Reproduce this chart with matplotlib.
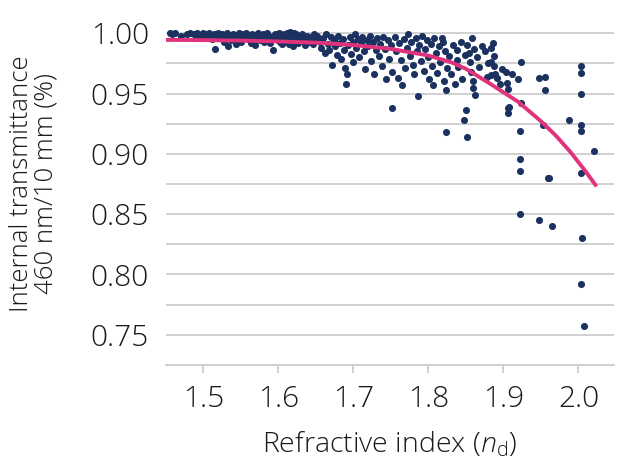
import matplotlib
matplotlib.use("Agg")
import matplotlib.pyplot as plt
import numpy as np

# glass data: refractive index n_d vs internal transmittance (460 nm / 10 mm)
nd_low = [1.455, 1.458, 1.462, 1.470, 1.478, 1.482, 1.487, 1.490, 1.492, 1.495,
          1.498, 1.500, 1.502, 1.504, 1.506, 1.508, 1.510, 1.512, 1.514, 1.516,
          1.517, 1.519, 1.521, 1.523, 1.525, 1.527, 1.529, 1.531, 1.533, 1.535,
          1.537, 1.539, 1.541, 1.543, 1.545, 1.547, 1.549, 1.550]
tr_low = [1.000, 0.999, 1.000, 0.998, 0.999, 1.000, 0.999, 0.997, 1.000, 0.998,
          0.999, 1.000, 0.996, 0.999, 0.997, 1.000, 0.998, 0.995, 0.999, 0.987,
          0.997, 1.000, 0.996, 0.998, 0.999, 0.993, 0.997, 1.000, 0.989, 0.998,
          0.994, 0.999, 0.997, 0.991, 0.998, 1.000, 0.996, 0.993]

nd_mid1 = [1.552, 1.555, 1.557, 1.559, 1.561, 1.563, 1.565, 1.567, 1.569, 1.571,
           1.573, 1.575, 1.577, 1.579, 1.581, 1.583, 1.585, 1.587, 1.589, 1.591,
           1.593, 1.595, 1.597, 1.599, 1.601, 1.603, 1.605, 1.607, 1.609, 1.611,
           1.613, 1.615, 1.617, 1.619, 1.620, 1.622, 1.624, 1.626, 1.628, 1.630,
           1.632, 1.634, 1.636, 1.638, 1.640, 1.642, 1.644, 1.646, 1.648, 1.650,
           1.600, 1.602, 1.604, 1.606, 1.610, 1.612, 1.614, 1.616, 1.618, 1.621,
           1.623, 1.625]
tr_mid1 = [0.999, 0.997, 1.000, 0.995, 0.998, 0.992, 0.999, 0.996, 0.990, 0.998,
           1.000, 0.994, 0.997, 0.999, 0.993, 0.996, 1.000, 0.998, 0.992, 0.995,
           0.986, 0.999, 0.997, 0.994, 1.000, 0.998, 0.991, 0.996, 0.999, 0.993,
           0.997, 1.001, 0.995, 0.998, 0.989, 0.996, 0.999, 0.992, 0.997, 0.994,
           0.999, 0.996, 0.990, 0.998, 0.995, 0.993, 0.997, 0.991, 0.999, 0.994,
           0.996, 0.993, 0.999, 0.997, 0.995, 1.000, 0.991, 0.998, 0.994, 1.000,
           0.993, 0.997]

nd_mid2 = [1.652, 1.655, 1.657, 1.660, 1.662, 1.664, 1.666, 1.668, 1.670, 1.672,
           1.674, 1.676, 1.678, 1.680, 1.682, 1.684, 1.686, 1.688, 1.689, 1.690,
           1.691, 1.693, 1.695, 1.697, 1.699, 1.700, 1.702, 1.704, 1.706, 1.708,
           1.710, 1.712, 1.714, 1.716, 1.718, 1.720, 1.722, 1.724, 1.726, 1.728,
           1.730, 1.732, 1.734, 1.736, 1.738, 1.740, 1.742, 1.744, 1.746, 1.748,
           1.750, 1.751, 1.752]
tr_mid2 = [0.998, 0.993, 0.988, 0.996, 0.984, 0.999, 0.991, 0.986, 0.997, 0.974,
           0.994, 0.989, 0.982, 0.998, 0.992, 0.979, 0.995, 0.986, 0.971, 0.958,
           0.966, 0.990, 0.997, 0.983, 0.993, 0.976, 0.999, 0.988, 0.995, 0.980,
           0.992, 0.997, 0.985, 0.970, 0.994, 0.989, 0.998, 0.977, 0.993, 0.966,
           0.986, 0.996, 0.981, 0.991, 0.973, 0.997, 0.987, 0.962, 0.994, 0.979,
           0.990, 0.938, 0.968]

nd_high1 = [1.755, 1.757, 1.759, 1.761, 1.763, 1.765, 1.767, 1.769, 1.771, 1.773,
            1.775, 1.777, 1.779, 1.781, 1.783, 1.785, 1.786, 1.788, 1.790, 1.792,
            1.794, 1.796, 1.798, 1.800, 1.801, 1.803, 1.805, 1.806, 1.808, 1.810,
            1.812, 1.814, 1.816, 1.818, 1.820, 1.821, 1.822, 1.823, 1.823, 1.825,
            1.828, 1.830, 1.833, 1.835, 1.838, 1.838, 1.840, 1.843, 1.845, 1.848,
            1.849, 1.850, 1.851]
tr_high1 = [0.997, 0.985, 0.963, 0.992, 0.978, 0.957, 0.995, 0.971, 0.988, 0.999,
            0.981, 0.993, 0.974, 0.966, 0.996, 0.985, 0.948, 0.990, 0.977, 0.998,
            0.969, 0.987, 0.994, 0.980, 0.962, 0.991, 0.973, 0.957, 0.996, 0.984,
            0.967, 0.989, 0.976, 0.996, 0.993, 0.960, 0.985, 0.953, 0.918, 0.971,
            0.981, 0.966, 0.990, 0.958, 0.986, 0.978, 0.972, 0.993, 0.962, 0.928,
            0.982, 0.936, 0.914]

nd_high2 = [1.852, 1.854, 1.856, 1.857, 1.858, 1.859, 1.860, 1.861, 1.862, 1.865,
            1.868, 1.872, 1.876, 1.878, 1.880, 1.884, 1.884, 1.884, 1.886, 1.887,
            1.888, 1.889, 1.892, 1.895, 1.898]
tr_high2 = [0.990, 0.984, 0.976, 0.968, 0.996, 0.960, 0.955, 0.987, 0.949, 0.980,
            0.972, 0.989, 0.985, 0.964, 0.975, 0.988, 0.976, 0.965, 0.992, 0.981,
            0.973, 0.966, 0.963, 0.958, 0.970]

nd_out = [1.904, 1.905, 1.906, 1.906, 1.906, 1.907, 1.912, 1.919, 1.923, 1.922,
          1.922, 1.922, 1.922, 1.924, 1.947, 1.947, 1.953, 1.955, 1.956, 1.960,
          1.961, 1.965, 1.988, 2.003, 2.003, 2.003, 2.003, 2.003, 2.003, 2.005,
          2.003, 2.007, 2.021]
tr_out = [0.968, 0.959, 0.954, 0.934, 0.938, 0.939, 0.966, 0.962, 0.942, 0.919,
          0.896, 0.886, 0.850, 0.976, 0.963, 0.845, 0.924, 0.953, 0.964, 0.880,
          0.880, 0.840, 0.928, 0.973, 0.967, 0.950, 0.924, 0.919, 0.884, 0.830,
          0.792, 0.757, 0.902]

# trend curve
fit_nd = [1.45, 1.50, 1.55, 1.60, 1.65, 1.70, 1.75, 1.80, 1.83, 1.85, 1.88,
          1.90, 1.92, 1.95, 1.97, 1.99, 2.01, 2.024]
fit_tr = [0.9945, 0.9943, 0.9939, 0.9932, 0.9922, 0.9902, 0.9870, 0.9815,
          0.9760, 0.9705, 0.9590, 0.9510, 0.9430, 0.9270, 0.9150, 0.9010,
          0.8850, 0.8730]

nd_all = nd_low + nd_mid1 + nd_mid2 + nd_high1 + nd_high2 + nd_out
tr_all = tr_low + tr_mid1 + tr_mid2 + tr_high1 + tr_high2 + tr_out

plt.rcParams['font.family'] = ['Open Sans', 'DejaVu Sans']
plt.rcParams['font.weight'] = 300
plt.rcParams['axes.labelweight'] = 300
plt.rcParams['mathtext.fontset'] = 'custom'
plt.rcParams['mathtext.it'] = 'Open Sans:italic:light'
plt.rcParams['mathtext.rm'] = 'Open Sans:light'

fig = plt.figure(figsize=(6.4, 4.69), dpi=100)
ax = fig.add_axes([0.259, 0.222, 0.700, 0.720])

ax.scatter(nd_all, tr_all, s=26, color='#1b3260', zorder=3, linewidths=0)
ax.plot(fit_nd, fit_tr, color='#e0337c', lw=2.8, zorder=4, solid_capstyle='butt')

ax.set_xlim(1.45, 2.047)
ax.set_ylim(0.725, 1.005)
ax.set_xticks([1.5, 1.6, 1.7, 1.8, 1.9, 2.0])
ax.set_xticklabels(['1.5', '1.6', '1.7', '1.8', '1.9', '2.0'])
ax.set_yticks([0.75, 0.80, 0.85, 0.90, 0.95, 1.00])
ax.set_yticklabels(['0.75', '0.80', '0.85', '0.90', '0.95', '1.00'])
ax.set_yticks(np.arange(0.725, 1.001, 0.025), minor=True)

ax.grid(axis='y', which='both', color='#d0d0d0', lw=1.4, zorder=0)
for s in ['top', 'right', 'left']:
    ax.spines[s].set_visible(False)
ax.spines['bottom'].set_color('#d0d0d0')
ax.spines['bottom'].set_linewidth(1.4)

ax.tick_params(axis='y', which='both', length=0, pad=12, labelsize=21.5, labelcolor='#1a1a1a')
ax.tick_params(axis='x', length=6, width=1.4, color='#d0d0d0', pad=8,
               labelsize=21.5, labelcolor='#1a1a1a')

ax.set_xlabel(r'Refractive index ($n_\mathrm{d}$)', fontsize=20.5, color='#1a1a1a', labelpad=11)
ax.set_ylabel('Internal transmittance\n460 nm/10 mm (%)', fontsize=18.5,
              color='#1a1a1a', linespacing=1.0)
ax.yaxis.set_label_coords(-0.239, 0.538)

fig.savefig('out.png', dpi=100)
